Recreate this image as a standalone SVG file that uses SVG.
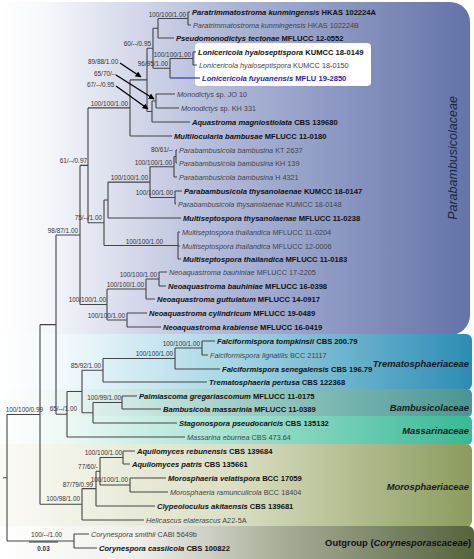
<svg xmlns="http://www.w3.org/2000/svg" width="474" height="559" viewBox="0 0 474 559">
<defs>
<linearGradient id="gPara" x1="0" y1="0" x2="474" y2="0" gradientUnits="userSpaceOnUse">
<stop offset="0" stop-color="#ffffff"/><stop offset="0.1" stop-color="#f6f7fb"/><stop offset="0.5" stop-color="#abb4d5"/><stop offset="1" stop-color="#6272a8"/>
</linearGradient>
<linearGradient id="gTrem" x1="0" y1="0" x2="474" y2="0" gradientUnits="userSpaceOnUse">
<stop offset="0" stop-color="#ffffff"/><stop offset="0.15" stop-color="#eef8fb"/><stop offset="0.5" stop-color="#a3d5e4"/><stop offset="1" stop-color="#2b8bb4"/>
</linearGradient>
<linearGradient id="gBamb" x1="0" y1="0" x2="474" y2="0" gradientUnits="userSpaceOnUse">
<stop offset="0" stop-color="#ffffff"/><stop offset="0.15" stop-color="#e8f5f2"/><stop offset="0.5" stop-color="#9fcfc6"/><stop offset="1" stop-color="#4a9494"/>
</linearGradient>
<linearGradient id="gMass" x1="0" y1="0" x2="474" y2="0" gradientUnits="userSpaceOnUse">
<stop offset="0" stop-color="#ffffff"/><stop offset="0.15" stop-color="#eaf8f4"/><stop offset="0.5" stop-color="#a2e1ce"/><stop offset="1" stop-color="#35b994"/>
</linearGradient>
<linearGradient id="gMoro" x1="0" y1="0" x2="474" y2="0" gradientUnits="userSpaceOnUse">
<stop offset="0" stop-color="#fbfbf6"/><stop offset="0.5" stop-color="#dadec2"/><stop offset="1" stop-color="#8a9b5c"/>
</linearGradient>
<linearGradient id="gOut" x1="0" y1="0" x2="474" y2="0" gradientUnits="userSpaceOnUse">
<stop offset="0" stop-color="#ffffff"/><stop offset="0.3" stop-color="#eeeeea"/><stop offset="0.6" stop-color="#a6ac96"/><stop offset="1" stop-color="#55633e"/>
</linearGradient>
<marker id="ah" viewBox="0 0 10 10" refX="9" refY="5" markerWidth="6" markerHeight="6" orient="auto" markerUnits="userSpaceOnUse">
<path d="M0 0L10 5L0 10z" fill="#000"/>
</marker>
<style>
text{font-family:"Liberation Sans",Arial,sans-serif}
.t{font-size:7.3px;fill:#444}
.b{font-weight:bold;fill:#111;font-size:7.6px}
.i{font-style:italic}
.bl{fill:#1f1fb0}
.s{font-size:6.4px;fill:#333}
.sr{font-size:6.4px;fill:#333;text-anchor:end}
.fam{font-size:9.4px;font-weight:bold;font-style:italic;fill:#1a1a1a;text-anchor:end}
.tree{fill:none;stroke:#444;stroke-width:1.1}
.arr{stroke:#000;stroke-width:1.3;marker-end:url(#ah)}
</style>
</defs>

<g id="bands">
<rect x="-20" y="2" width="490" height="333" rx="20" fill="url(#gPara)"/>
<rect x="-20" y="334" width="492" height="56" rx="6" fill="url(#gTrem)"/>
<rect x="-20" y="389" width="492" height="28" rx="5" fill="url(#gBamb)"/>
<rect x="-20" y="416" width="492" height="29" rx="5" fill="url(#gMass)"/>
<rect x="-20" y="444" width="492" height="83" rx="6" fill="url(#gMoro)"/>
<rect x="-20" y="526" width="494" height="40" rx="6" fill="url(#gOut)"/>
<rect x="195" y="43" width="176" height="43" rx="4" fill="#ffffff"/>
</g>

<g id="connectors">
<path class="tree" d="M188 12H190M188 25H191M158 38H174M193 52H196M193 65H197M156 94H175M156 108H179M152 122H190M130 136H172M176 150H177M176 163H177M174 177H177M175 191H182M175 204H176M108 218H181M178 232H180M178 246H180M178 259H181M159 272H167M159 286H166M146 299H155M127 313H147M127 327H161M202 341H215M202 355H208M175 369H220M103 382H207M122 396H137M122 409H161M93 423H177M67 437H185M123 451H135M123 464H130M130 478H166M130 492H168M96 506H155M82 520H144M74 534H89M74 548H97
M188 12V25M158 18.5H188M158 18.5V38M153 28.25H158M193 52V65M170 58.5H193M170 58.5V78M153 68.25H170M153 28.25V68.25M147 48.25H153
M156 94V108M152 101H156M152 101V122M147 111.5H152M147 48.25V111.5M130 79.9H147M130 79.9V136M88 107.9H130
M176 150V163M174 156.5H176M174 156.5V177M150 166.75H174M175 191V204M150 197.5H175M150 166.75V197.5M108 182.1H150M108 182.1V218M104 200H108M178 232V259M104 245.5H178M104 200V245.5M88 222.8H104M88 107.9V222.8M80 165.4H88
M159 272V286M146 279H159M146 279V299M107 289H146M127 313V327M107 320H127M107 289V320M80 304.5H107M80 165.4V304.5M56 235H80
M202 341V355M175 348H202M175 348V369M103 358.5H175M103 358.5V382M82 370.25H103M122 396V409M93 402.5H122M93 402.5V423M82 412.75H93M82 370.25V412.75M67 391.5H82M67 391.5V437M56 414.25H67M56 235V414.25M40 324.6H56
M123 451V464M100 457.5H123M130 478V492M100 485H130M100 457.5V485M96 471.25H100M96 471.25V506M82 488.6H96M82 488.6V520M40 504.3H82M40 324.6V504.3M7 414.5H40M74 534V548M7 541H74M7 414.5V541M3 477.7H7"/>
<path d="M170 78H200" fill="none" stroke="#2a2ab8" stroke-width="1.1"/>
<line class="arr" x1="120" y1="63" x2="141" y2="77"/>
<line class="arr" x1="116" y1="75" x2="154" y2="99"/>
<line class="arr" x1="116" y1="86" x2="148" y2="109"/>
<path d="M29 542H58" stroke="#333" stroke-width="1"/>
</g>

<g id="labels">
<text class="sr" x="186" y="16.5">100/100/1.00</text>
<text class="sr" x="151" y="46">60/--/0.95</text>
<text class="sr" x="191" y="56.5">100/100/1.00</text>
<text class="sr" x="168" y="66">96/95/1.00</text>
<text class="s" x="88" y="64">89/88/1.00</text>
<text class="s" x="94" y="75.5">65/70/--</text>
<text class="s" x="87" y="86.5">67/--/0.95</text>
<text class="sr" x="128" y="105.5">100/100/1.00</text>
<text class="sr" x="173" y="152">80/61/--</text>
<text class="sr" x="172" y="165">100/100/1.00</text>
<text class="sr" x="87" y="163">61/--/0.97</text>
<text class="sr" x="148" y="180">100/100/1.00</text>
<text class="sr" x="173" y="195">100/100/1.00</text>
<text class="sr" x="102" y="220">75/--/1.00</text>
<text class="sr" x="78" y="232.5">98/87/1.00</text>
<text class="sr" x="163" y="244">100/100/1.00</text>
<text class="sr" x="157" y="276.5">100/100/1.00</text>
<text class="sr" x="144" y="287">100/100/1.00</text>
<text class="sr" x="106" y="302">100/100/1.00</text>
<text class="sr" x="125" y="317.5">100/100/1.00</text>
<text class="sr" x="200" y="345.5">100/100/1.00</text>
<text class="sr" x="173" y="356">100/100/1.00</text>
<text class="sr" x="101" y="367.5">85/92/1.00</text>
<text class="sr" x="121" y="399.5">100/99/1.00</text>
<text class="sr" x="77" y="411">65/--/1.00</text>
<text class="sr" x="43" y="411.5">100/100/0.99</text>
<text class="sr" x="122" y="455">100/100/1.00</text>
<text class="sr" x="98" y="469">77/60/-</text>
<text class="sr" x="128" y="482">100/100/1.00</text>
<text class="sr" x="93" y="487">87/79/0.99</text>
<text class="sr" x="80" y="501">100/98/1.00</text>
<text class="sr" x="62" y="537">100/--/1.00</text>
<text x="43.5" y="551" text-anchor="middle" style="font-size:6.4px;font-weight:bold;fill:#333">0.03</text>
</g>

<g id="taxa">
<g id="t1"><text class="t b" x="192" y="14.6"><tspan class="i">Paratrimmatostroma kunmingensis</tspan> HKAS 102224A</text></g>
<g id="t2"><text class="t" x="193" y="27.6"><tspan class="i">Paratrimmatostroma kunmingensis</tspan> HKAS 102224B</text></g>
<g id="t3"><text class="t b" x="176" y="40.6"><tspan class="i">Pseudomonodictys tectonae</tspan> MFLUCC 12-0552</text></g>
<g id="t4"><text class="t b" x="198" y="54.6"><tspan class="i">Lonicericola hyaloseptispora</tspan> KUMCC 18-0149</text></g>
<g id="t5"><text class="t" x="199" y="67.6"><tspan class="i">Lonicericola hyaloseptispora</tspan> KUMCC 18-0150</text></g>
<g id="t6"><text class="t b bl" x="202" y="80.6"><tspan class="i">Lonicericola fuyuanensis</tspan> MFLU 19-2850</text></g>
<g id="t7"><text class="t" x="177" y="96.6"><tspan class="i">Monodictys</tspan> sp. JO 10</text></g>
<g id="t8"><text class="t" x="181" y="110.6"><tspan class="i">Monodictys</tspan> sp. KH 331</text></g>
<g id="t9"><text class="t b" x="192" y="124.6"><tspan class="i">Aquastroma magniostiolata</tspan> CBS 139680</text></g>
<g id="t10"><text class="t b" x="174" y="138.6"><tspan class="i">Multilocularia bambusae</tspan> MFLUCC 11-0180</text></g>
<g id="t11"><text class="t" x="179" y="152.6"><tspan class="i">Parabambusicola bambusina</tspan> KT 2637</text></g>
<g id="t12"><text class="t" x="179" y="165.6"><tspan class="i">Parabambusicola bambusina</tspan> KH 139</text></g>
<g id="t13"><text class="t" x="179" y="179.6"><tspan class="i">Parabambusicola bambusina</tspan> H 4321</text></g>
<g id="t14"><text class="t b" x="184" y="193.6"><tspan class="i">Parabambusicola thysanolaenae</tspan> KUMCC 18-0147</text></g>
<g id="t15"><text class="t" x="178" y="206.6"><tspan class="i">Parabambusicola thysanolaenae</tspan> KUMCC 18-0148</text></g>
<g id="t16"><text class="t b" x="183" y="220.6"><tspan class="i">Multiseptospora thysanolaenae</tspan> MFLUCC 11-0238</text></g>
<g id="t17"><text class="t" x="182" y="234.6"><tspan class="i">Multiseptospora thailandica</tspan> MFLUCC 11-0204</text></g>
<g id="t18"><text class="t" x="182" y="248.6"><tspan class="i">Multiseptospora thailandica</tspan> MFLUCC 12-0006</text></g>
<g id="t19"><text class="t b" x="183" y="261.6"><tspan class="i">Multiseptospora thailandica</tspan> MFLUCC 11-0183</text></g>
<g id="t20"><text class="t" x="169" y="274.6"><tspan class="i">Neoaquastroma bauhiniae</tspan> MFLUCC 17-2205</text></g>
<g id="t21"><text class="t b" x="168" y="288.6"><tspan class="i">Neoaquastroma bauhiniae</tspan> MFLUCC 16-0398</text></g>
<g id="t22"><text class="t b" x="157" y="301.6"><tspan class="i">Neoaquastroma guttulatum</tspan> MFLUCC 14-0917</text></g>
<g id="t23"><text class="t b" x="149" y="315.6"><tspan class="i">Neoaquastroma cylindricum</tspan> MFLUCC 19-0489</text></g>
<g id="t24"><text class="t b" x="163" y="329.6"><tspan class="i">Neoaquastroma krabiense</tspan> MFLUCC 16-0419</text></g>
<g id="t25"><text class="t b" x="217" y="343.6"><tspan class="i">Falciformispora tompkinsii</tspan> CBS 200.79</text></g>
<g id="t26"><text class="t" x="210" y="357.6"><tspan class="i">Falciformispora lignatilis</tspan> BCC 21117</text></g>
<g id="t27"><text class="t b" x="222" y="371.6"><tspan class="i">Falciformispora senegalensis</tspan> CBS 196.79</text></g>
<g id="t28"><text class="t b" x="209" y="384.6"><tspan class="i">Trematosphaeria pertusa</tspan> CBS 122368</text></g>
<g id="t29"><text class="t b" x="139" y="398.6"><tspan class="i">Palmiascoma gregariascomum</tspan> MFLUCC 11-0175</text></g>
<g id="t30"><text class="t b" x="163" y="411.6"><tspan class="i">Bambusicola massarinia</tspan> MFLUCC 11-0389</text></g>
<g id="t31"><text class="t b" x="179" y="425.6"><tspan class="i">Stagonospora pseudocaricis</tspan> CBS 135132</text></g>
<g id="t32"><text class="t" x="187" y="439.6"><tspan class="i">Massarina eburnea</tspan> CBS 473.64</text></g>
<g id="t33"><text class="t b" x="137" y="453.6"><tspan class="i">Aquilomyces rebunensis</tspan> CBS 139684</text></g>
<g id="t34"><text class="t b" x="132" y="466.6"><tspan class="i">Aquilomyces patris</tspan> CBS 135661</text></g>
<g id="t35"><text class="t b" x="168" y="480.6"><tspan class="i">Morosphaeria velatispora</tspan> BCC 17059</text></g>
<g id="t36"><text class="t" x="170" y="494.6"><tspan class="i">Morosphaeria ramunculicola</tspan> BCC 18404</text></g>
<g id="t37"><text class="t b" x="157" y="508.6"><tspan class="i">Clypeoloculus akitaensis</tspan> CBS 139681</text></g>
<g id="t38"><text class="t" x="146" y="522.6"><tspan class="i">Helicascus elaterascus</tspan> A22-5A</text></g>
<g id="t39"><text class="t" x="91" y="536.6"><tspan class="i">Corynespora smithii</tspan> CABI 5649b</text></g>
<g id="t40"><text class="t b" x="99" y="550.6"><tspan class="i">Corynespora cassiicola</tspan> CBS 100822</text></g>
</g>

<g id="families">
<text transform="translate(457 158) rotate(-90)" text-anchor="middle" style="font-size:12.5px;font-style:italic;fill:#1c2340">Parabambusicolaceae</text>
<text class="fam" x="469" y="367">Trematosphaeriaceae</text>
<text class="fam" x="469" y="411">Bambusicolaceae</text>
<text class="fam" x="469" y="434">Massarinaceae</text>
<text class="fam" x="469" y="490">Morosphaeriaceae</text>
<text class="fam" x="471" y="546" style="font-style:normal;fill:#111">Outgroup (<tspan font-style="italic">Corynesporascaceae</tspan>)</text>
</g>
</svg>
